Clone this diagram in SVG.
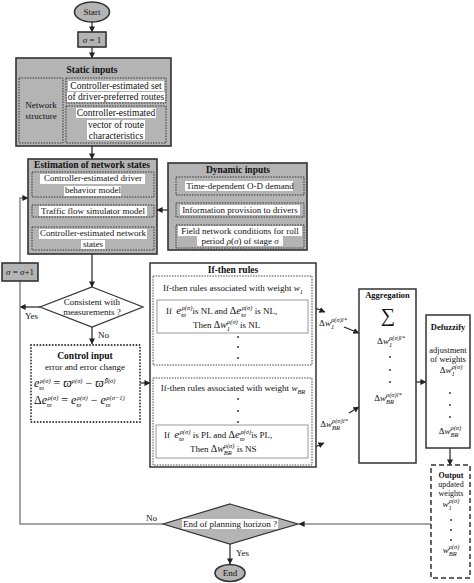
<svg xmlns="http://www.w3.org/2000/svg" width="474" height="583" viewBox="0 0 474 583">
<defs>
<marker id="ah" viewBox="0 0 8 8" refX="7.5" refY="4" markerWidth="6" markerHeight="6" orient="auto" markerUnits="userSpaceOnUse">
<path d="M0,0 L8,4 L0,8 Z" fill="#222"/>
</marker>
<style>
.box{fill:#b4b4b4;stroke:#333;stroke-width:1.6}
.inner{fill:#b4b4b4;stroke:#333;stroke-width:1;stroke-dasharray:1.5 1.2}
.wbox{fill:#fff;stroke:#333;stroke-width:1.5}
.dot{fill:none;stroke:#444;stroke-width:1;stroke-dasharray:1.5 1.2}
.rule{fill:#fff;stroke:#999;stroke-width:1}
.hl{fill:#fff}
.t{font-family:"Liberation Serif","Times New Roman",serif;font-size:9px;fill:#111;text-anchor:middle}
.l{text-anchor:start}
.b{font-weight:bold}
.i{font-style:italic}
.s{font-size:6.5px;font-style:italic}
.c{stroke:#222;stroke-width:1.2;fill:none}
.g{stroke:#888;stroke-width:1.5;fill:none}
</style>
</defs>

<g id="connectors">
<line class="c" x1="92" y1="22" x2="92" y2="32" marker-end="url(#ah)"/>
<line class="c" x1="92" y1="47" x2="92" y2="58" marker-end="url(#ah)"/>
<line class="c" x1="92" y1="146" x2="92" y2="159" marker-end="url(#ah)"/>
<line class="c" x1="92" y1="197" x2="92" y2="205" marker-end="url(#ah)"/>
<line class="c" x1="92" y1="217" x2="92" y2="227" marker-end="url(#ah)"/>
<line class="c" x1="168" y1="210" x2="157" y2="210" marker-end="url(#ah)"/>
<line class="c" x1="92" y1="254" x2="92" y2="287" marker-end="url(#ah)"/>
<line class="c" x1="40" y1="307" x2="20" y2="307" marker-end="url(#ah)"/>
<line class="c" x1="92" y1="327" x2="92" y2="344" marker-end="url(#ah)"/>
<line class="c" x1="140" y1="383" x2="150" y2="383" marker-end="url(#ah)"/>
<line class="c" x1="315" y1="308" x2="325" y2="312" marker-end="url(#ah)"/>
<line class="c" x1="344" y1="327" x2="359" y2="333" marker-end="url(#ah)"/>
<line class="c" x1="315" y1="447" x2="324" y2="443" marker-end="url(#ah)"/>
<line class="c" x1="349" y1="413" x2="359" y2="407" marker-end="url(#ah)"/>
<line class="c" x1="416" y1="382" x2="426" y2="382" marker-end="url(#ah)"/>
<line class="c" x1="450" y1="448" x2="450" y2="465" marker-end="url(#ah)"/>
<line class="g" x1="431" y1="524" x2="299" y2="524" marker-end="url(#ah)"/>
<polyline class="g" points="163,524 20,524 20,198 28,198" marker-end="url(#ah)"/>
<line class="c" x1="230" y1="544" x2="230" y2="564" marker-end="url(#ah)"/>
<text class="t l" x="25" y="319">Yes</text>
<text class="t l" x="98" y="338">No</text>
<text class="t l" x="146" y="521">No</text>
<text class="t l" x="236" y="556">Yes</text>
<text class="t" x="333" y="326">Δ<tspan class="i">w</tspan><tspan class="s" dy="2.5">1</tspan><tspan class="s" dx="-3" dy="-6.5">ρ(σ)l*</tspan><tspan dy="4"></tspan></text>
<text class="t" x="334" y="427">Δ<tspan class="i">w</tspan><tspan class="s" dy="2.5">BR</tspan><tspan class="s" dx="-8" dy="-6.5">ρ(σ)l*</tspan><tspan dy="4"></tspan></text>
</g>

<g id="start">
<ellipse cx="92" cy="12" rx="17.5" ry="10" class="box"/>
<text class="t" x="92" y="15">Start</text>
</g>

<g id="sigma1">
<rect x="78" y="32" width="28" height="15" class="box"/>
<text class="t" x="92" y="43"><tspan class="i">σ</tspan> = 1</text>
</g>

<g id="static">
<rect x="16" y="58" width="155" height="88" class="box"/>
<text class="t b" x="92" y="73" style="font-size:9.5px">Static inputs</text>
<rect x="19" y="78" width="44" height="65" class="inner"/>
<text class="t" x="41" y="108">Network</text>
<text class="t" x="41" y="119">structure</text>
<rect x="66" y="78" width="100" height="25" class="inner"/>
<rect x="68" y="81" width="96" height="10" class="hl"/>
<rect x="67" y="92" width="98" height="10" class="hl"/>
<text class="t" x="116" y="89" style="font-size:9.5px">Controller-estimated set</text>
<text class="t" x="116" y="100" style="font-size:9.5px">of driver-preferred routes</text>
<rect x="66" y="106" width="100" height="37" class="inner"/>
<rect x="76" y="108" width="80" height="10" class="hl"/>
<rect x="87" y="120" width="58" height="10" class="hl"/>
<rect x="87" y="130" width="58" height="10" class="hl"/>
<text class="t" x="116" y="116" style="font-size:9.5px">Controller-estimated</text>
<text class="t" x="116" y="128" style="font-size:9.5px">vector of route</text>
<text class="t" x="116" y="139" style="font-size:9.5px">characteristics</text>
</g>

<g id="estimation">
<rect x="28" y="159" width="129" height="95" class="box"/>
<text class="t b" x="92" y="168" style="font-size:9.5px">Estimation of network states</text>
<rect x="32" y="172" width="122" height="25" class="inner"/>
<rect x="40" y="174" width="105" height="10" class="hl"/>
<rect x="64" y="186" width="57" height="10" class="hl"/>
<text class="t" x="93" y="181">Controller-estimated driver</text>
<text class="t" x="93" y="193">behavior model</text>
<rect x="32" y="205" width="122" height="12" class="inner"/>
<rect x="39" y="206" width="108" height="10" class="hl"/>
<text class="t" x="93" y="214">Traffic flow simulator model</text>
<rect x="32" y="227" width="122" height="23" class="inner"/>
<rect x="39" y="229" width="108" height="10" class="hl"/>
<rect x="81" y="240" width="24" height="9" class="hl"/>
<text class="t" x="93" y="236">Controller-estimated network</text>
<text class="t" x="93" y="247">states</text>
</g>

<g id="dynamic">
<rect x="168" y="163" width="139" height="87" class="box"/>
<text class="t b" x="238" y="173" style="font-size:9.5px">Dynamic inputs</text>
<rect x="176" y="177" width="128" height="18" class="inner"/>
<rect x="185" y="181" width="108" height="10" class="hl"/>
<text class="t" x="240" y="189">Time-dependent O-D demand</text>
<rect x="176" y="203" width="128" height="14" class="inner"/>
<rect x="180" y="205" width="120" height="10" class="hl"/>
<text class="t" x="240" y="213">Information provision to drivers</text>
<rect x="176" y="225" width="128" height="23" class="inner"/>
<rect x="178" y="226" width="124" height="10" class="hl"/>
<rect x="197" y="236" width="86" height="10" class="hl"/>
<text class="t" x="240" y="234">Field network conditions for roll</text>
<text class="t" x="240" y="244">period <tspan class="i">ρ</tspan>(<tspan class="i">σ</tspan>) of stage <tspan class="i">σ</tspan></text>
</g>

<g id="sigma-update">
<rect x="2" y="263" width="36" height="18" class="box"/>
<text class="t" x="20" y="275"><tspan class="i">σ</tspan> = <tspan class="i">σ</tspan>+1</text>
</g>

<g id="consistent">
<polygon points="92,287 143,307 92,327 40,307" fill="#fff" stroke="#333" stroke-width="1.2"/>
<text class="t" x="92" y="305">Consistent with</text>
<text class="t" x="92" y="315">measurements ?</text>
</g>

<g id="control-input">
<rect x="31" y="345" width="109" height="77" fill="#fff" stroke="#333" stroke-width="1.8" stroke-dasharray="0.1 3" stroke-linecap="round"/>
<text class="t b" x="85" y="359" style="font-size:9.5px">Control input</text>
<text class="t" x="85" y="370">error and error change</text>
<text class="t l" x="34" y="387" style="font-size:12px"><tspan class="i">e</tspan><tspan class="s" dy="2.5">ϖ</tspan><tspan class="s" dx="-4" dy="-7">ρ(σ)</tspan><tspan dy="4.5"> = </tspan><tspan class="i">ϖ</tspan><tspan class="s" dy="-4">ρ(σ)</tspan><tspan dy="4"> − </tspan><tspan class="i">ϖ̂</tspan><tspan class="s" dx="1" dy="-4">ρ(σ)</tspan><tspan dy="4"></tspan></text>
<text class="t l" x="34" y="404" style="font-size:12px">Δ<tspan class="i">e</tspan><tspan class="s" dy="2.5">ϖ</tspan><tspan class="s" dx="-4" dy="-7">ρ(σ)</tspan><tspan dy="4.5"> = </tspan><tspan class="i">e</tspan><tspan class="s" dy="2.5">ϖ</tspan><tspan class="s" dx="-4" dy="-7">ρ(σ)</tspan><tspan dy="4.5"> − </tspan><tspan class="i">e</tspan><tspan class="s" dy="2.5">ϖ</tspan><tspan class="s" dx="-4" dy="-7">ρ(σ−1)</tspan><tspan dy="4.5"></tspan></text>
</g>

<g id="if-then-rules">
<rect x="150" y="263" width="166" height="204" class="wbox"/>
<text class="t b" x="233" y="273" style="font-size:9.5px">If-then rules</text>
<rect x="153" y="276" width="159" height="89" class="dot"/>
<text class="t" x="233" y="291">If-then rules associated with weight <tspan class="i">w</tspan><tspan class="s" dy="2.5">1</tspan><tspan dy="-2.5"></tspan></text>
<rect x="157" y="300" width="151" height="33" class="rule"/>
<text class="t l" x="166" y="314">If <tspan class="i" dx="2" style="font-size:11px">e</tspan><tspan class="s" dy="2.5">ϖ</tspan><tspan class="s" dx="-4" dy="-7">ρ(σ)</tspan><tspan dy="4.5">is NL  and </tspan><tspan style="font-size:10px">Δ</tspan><tspan class="i" style="font-size:11px">e</tspan><tspan class="s" dy="2.5">ϖ</tspan><tspan class="s" dx="-4" dy="-7">ρ(σ)</tspan><tspan dy="4.5">  is NL,</tspan></text>
<text class="t l" x="193" y="328">Then  <tspan style="font-size:10px">Δ</tspan><tspan class="i" style="font-size:10px">w</tspan><tspan class="s" dy="2.5">1</tspan><tspan class="s" dx="-3" dy="-7">ρ(σ)</tspan><tspan dy="4.5"> is NL</tspan></text>
<circle cx="238" cy="337" r="0.9" fill="#222"/>
<circle cx="238" cy="347" r="0.9" fill="#222"/>
<circle cx="238" cy="358" r="0.9" fill="#222"/>
<rect x="153" y="378" width="159" height="87" class="dot"/>
<text class="t" x="233" y="391">If-then rules associated with weight <tspan class="i">w</tspan><tspan class="s" dy="2.5">BR</tspan><tspan dy="-2.5"></tspan></text>
<circle cx="238" cy="399" r="0.9" fill="#222"/>
<circle cx="238" cy="411" r="0.9" fill="#222"/>
<circle cx="238" cy="422" r="0.9" fill="#222"/>
<rect x="156" y="425" width="152" height="33" class="rule"/>
<text class="t l" x="164" y="438">If <tspan class="i" dx="2" style="font-size:11px">e</tspan><tspan class="s" dy="2.5">ϖ</tspan><tspan class="s" dx="-4" dy="-7">ρ(σ)</tspan><tspan dy="4.5"> is PL  and  </tspan><tspan style="font-size:10px">Δ</tspan><tspan class="i" style="font-size:11px">e</tspan><tspan class="s" dy="2.5">ϖ</tspan><tspan class="s" dx="-4" dy="-7">ρ(σ)</tspan><tspan dy="4.5">is PL,</tspan></text>
<text class="t l" x="190" y="452">Then  <tspan style="font-size:10px">Δ</tspan><tspan class="i" style="font-size:10px">w</tspan><tspan class="s" dy="2.5">BR</tspan><tspan class="s" dx="-8" dy="-7">ρ(σ)</tspan><tspan dy="4.5"> is NS</tspan></text>
</g>

<g id="aggregation">
<rect x="359" y="289" width="57" height="174" class="wbox"/>
<text class="t b" x="387.5" y="298" style="font-size:8.5px">Aggregation</text>
<text class="t" x="388" y="322" style="font-size:20px">∑</text>
<text class="t" x="391" y="344">Δ<tspan class="i">w</tspan><tspan class="s" dy="2.5">1</tspan><tspan class="s" dx="-3" dy="-6.5">ρ(σ)l*</tspan><tspan dy="4"></tspan></text>
<circle cx="390" cy="357" r="0.9" fill="#222"/>
<circle cx="390" cy="370" r="0.9" fill="#222"/>
<circle cx="390" cy="382" r="0.9" fill="#222"/>
<text class="t" x="388" y="401">Δ<tspan class="i">w</tspan><tspan class="s" dy="2.5">BR</tspan><tspan class="s" dx="-8" dy="-6.5">ρ(σ)l*</tspan><tspan dy="4"></tspan></text>
</g>

<g id="defuzzify">
<rect x="426" y="315" width="44" height="133" class="wbox"/>
<text class="t b" x="448" y="330" style="font-size:8.5px">Defuzzify</text>
<text class="t" x="448" y="353" style="font-size:8.5px">adjustment</text>
<text class="t" x="448" y="362" style="font-size:8.5px">of weights</text>
<text class="t" x="451" y="373">Δ<tspan class="i">w</tspan><tspan class="s" dy="2.5">1</tspan><tspan class="s" dx="-3" dy="-6.5">ρ(σ)</tspan><tspan dy="4"></tspan></text>
<circle cx="450" cy="393" r="0.9" fill="#222"/>
<circle cx="450" cy="405" r="0.9" fill="#222"/>
<circle cx="450" cy="417" r="0.9" fill="#222"/>
<text class="t" x="450" y="434">Δ<tspan class="i">w</tspan><tspan class="s" dy="2.5">BR</tspan><tspan class="s" dx="-8" dy="-6.5">ρ(σ)</tspan><tspan dy="4"></tspan></text>
</g>

<g id="output">
<rect x="431" y="465" width="39" height="113" fill="#fff" stroke="#333" stroke-width="1.5" stroke-dasharray="5 3"/>
<text class="t b" x="451" y="478" style="font-size:8px">Output</text>
<text class="t" x="451" y="487" style="font-size:8px">updated</text>
<text class="t" x="451" y="496" style="font-size:8px">weights</text>
<text class="t" x="451" y="507"><tspan class="i">w</tspan><tspan class="s" dy="2.5">1</tspan><tspan class="s" dx="-3" dy="-6.5">ρ(σ)</tspan><tspan dy="4"></tspan></text>
<circle cx="451" cy="520" r="0.9" fill="#222"/>
<circle cx="451" cy="530" r="0.9" fill="#222"/>
<circle cx="451" cy="540" r="0.9" fill="#222"/>
<text class="t" x="451" y="553"><tspan class="i">w</tspan><tspan class="s" dy="2.5">BR</tspan><tspan class="s" dx="-8" dy="-6.5">ρ(σ)</tspan><tspan dy="4"></tspan></text>
</g>

<g id="end-horizon">
<polygon points="230,504 298,524 230,544 163,524" class="box" style="stroke-width:1.2"/>
<rect x="182" y="519" width="96" height="10" class="hl"/>
<text class="t" x="230" y="527">End of planning horizon ?</text>
</g>

<g id="end">
<ellipse cx="230" cy="573" rx="15" ry="8.5" class="box"/>
<text class="t" x="230" y="576">End</text>
</g>
</svg>
